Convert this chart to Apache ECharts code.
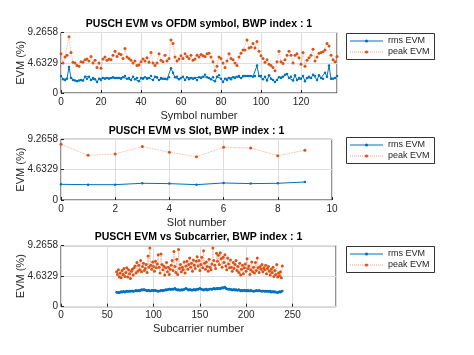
<!DOCTYPE html>
<html>
<head>
<meta charset="utf-8">
<script src="https://cdn.jsdelivr.net/npm/echarts@6/dist/echarts.min.js"></script>
<style>html,body{margin:0;padding:0;background:#fff}#c{width:474px;height:355px}</style>
</head>
<body>
<div id="c"></div>
<script>
// ---- data ----
const titles = ['PUSCH EVM vs OFDM symbol, BWP index : 1', 'PUSCH EVM vs Slot, BWP index : 1', 'PUSCH EVM vs Subcarrier, BWP index : 1'];
const xNames = ['Symbol number', 'Slot number', 'Subcarrier number'];
const yTicks = [0, 4.6329, 9.2658];
const seriesNames = ['rms EVM', 'peak EVM'];

const symbolStart = 0;
const symbolRms = [2.6,2.1,2.0,2.2,4.0,2.3,2.0,1.9,1.8,1.9,2.0,1.9,2.5,2.2,2.5,2.0,2.3,2.1,1.7,2.2,
2.0,2.3,2.2,2.3,2.2,2.3,2.4,2.3,2.3,2.3,2.2,2.4,2.6,2.2,2.3,2.0,2.5,2.1,2.3,1.8,
2.3,2.2,2.4,2.2,2.3,2.6,2.0,2.5,2.4,2.0,2.3,2.2,2.2,2.1,2.4,3.8,3.1,2.4,2.5,2.1,
2.3,2.5,2.0,2.4,2.1,2.3,2.2,2.3,2.0,2.4,2.3,2.5,2.8,2.4,2.3,2.1,2.4,1.8,2.5,2.7,
2.2,1.7,2.2,2.0,2.3,2.1,2.4,2.3,2.5,2.6,2.3,2.6,2.6,2.6,2.6,2.6,2.5,2.6,4.2,2.6,
2.6,2.1,2.5,1.9,2.7,2.2,2.0,1.7,2.0,2.4,2.3,2.5,2.8,2.9,2.3,2.5,1.9,2.7,2.0,2.3,
2.2,2.6,1.8,2.3,2.5,2.3,2.8,2.6,2.0,2.7,2.3,2.2,3.1,2.5,4.2,2.2,2.2,2.3,2.6];
const symbolPeak = [6.0,4.6,5.5,5.8,8.6,6.2,4.7,4.6,4.2,4.1,4.8,4.7,5.1,5.2,4.9,5.6,4.6,5.0,3.9,4.6,
3.8,5.2,5.5,5.0,5.2,5.1,5.8,6.4,5.6,6.0,5.9,5.3,6.8,5.5,5.3,5.0,4.6,4.9,4.2,4.3,
4.8,5.2,4.9,5.4,4.7,6.2,4.6,4.2,4.6,6.0,5.0,4.8,5.8,4.9,5.3,8.1,7.6,5.5,4.9,5.2,
5.7,5.3,6.0,5.6,5.3,5.8,5.0,5.2,5.8,5.5,5.9,5.7,5.6,6.0,6.1,5.5,4.8,3.4,4.1,5.5,
5.3,4.6,3.9,4.9,6.0,5.3,5.1,4.6,4.2,5.5,6.1,6.6,6.6,8.1,6.9,7.0,7.6,6.9,7.9,6.4,
5.7,5.3,4.7,5.1,4.4,4.2,3.9,3.4,4.8,6.4,4.8,4.5,5.1,5.8,6.4,5.8,4.6,5.8,6.0,5.4,
4.4,6.2,4.1,5.0,5.4,5.8,6.7,4.9,5.5,6.1,6.2,6.3,6.6,7.6,7.2,5.8,5.1,4.8,5.6];

const slotStart = 0;
const slotRms = [2.39,2.34,2.34,2.55,2.50,2.34,2.60,2.50,2.55,2.75];
const slotPeak = [8.50,6.82,7.03,8.15,7.28,6.62,8.04,7.94,6.77,7.59];

const subStart = 60;
const subRms = [2.2,2.1,2.2,2.1,2.2,2.3,2.2,2.3,2.3,2.2,2.3,2.4,2.3,2.3,2.4,2.3,2.4,2.4,2.3,2.4,
2.4,2.5,2.4,2.4,2.5,2.4,2.5,2.6,2.5,2.6,2.6,2.5,2.5,2.4,2.5,2.5,2.4,2.4,2.5,2.5,
2.4,2.5,2.5,2.4,2.4,2.3,2.4,2.4,2.5,2.5,2.4,2.5,2.5,2.6,2.5,2.6,2.6,2.7,2.6,2.6,
2.7,2.6,2.7,2.8,2.6,2.6,2.5,2.6,2.5,2.5,2.6,2.5,2.6,2.6,2.7,2.8,2.7,2.6,2.5,2.6,
2.6,2.5,2.5,2.6,2.6,2.5,2.6,2.7,2.6,2.7,2.8,2.7,2.6,2.6,2.5,2.6,2.6,2.7,2.5,2.6,
2.6,2.7,2.7,2.6,2.7,2.8,2.7,2.7,2.8,2.7,2.8,2.8,2.7,2.8,2.9,2.8,2.9,3.0,2.8,2.7,
2.7,2.6,2.7,2.6,2.6,2.5,2.6,2.6,2.5,2.6,2.5,2.5,2.6,2.5,2.4,2.5,2.4,2.5,2.5,2.4,
2.5,2.4,2.5,2.4,2.4,2.5,2.4,2.4,2.3,2.4,2.4,2.5,2.4,2.4,2.5,2.4,2.4,2.3,2.4,2.4,
2.3,2.4,2.3,2.4,2.3,2.3,2.4,2.2,2.3,2.3,2.2,2.3,2.2,2.2,2.1,2.2,2.3,2.2,2.3,2.4];
const subPeak = [5.3,4.9,5.6,4.5,5.1,4.4,5.5,4.9,5.8,4.6,5.2,5.9,4.5,5.6,5.0,4.3,5.4,5.7,4.8,5.9,
6.2,5.1,6.7,5.4,6.3,5.6,7.0,5.3,6.1,6.6,5.5,5.8,6.4,5.2,7.7,6.0,8.9,6.3,5.7,6.8,
6.1,5.4,6.9,5.9,6.5,7.9,6.0,5.1,8.0,6.4,5.6,6.2,4.8,5.9,6.7,5.3,6.0,4.9,5.7,6.3,
7.0,5.5,8.4,6.1,5.2,7.2,4.9,8.7,5.8,6.4,5.3,6.0,5.6,6.8,5.1,6.2,6.9,5.7,6.4,7.4,
6.0,6.6,5.4,7.1,6.3,5.8,6.9,7.6,6.2,7.0,5.5,6.4,7.5,5.9,8.5,6.6,5.7,6.8,6.1,5.4,
7.2,6.0,5.6,6.5,8.9,7.0,6.3,5.8,8.1,6.9,7.8,6.4,8.2,7.3,6.0,7.5,6.7,7.9,6.2,5.6,
7.4,6.5,5.9,7.1,6.0,5.4,6.7,5.8,6.4,7.0,5.5,6.1,5.2,6.6,4.8,5.7,6.3,5.0,5.9,6.5,
5.4,7.3,5.8,6.2,4.9,5.6,6.8,5.3,6.0,5.1,6.7,5.5,7.4,5.9,5.2,6.1,5.7,6.4,5.3,5.9,
5.6,6.3,5.0,5.8,6.1,5.4,4.8,5.7,5.2,6.0,4.6,5.5,4.9,6.4,4.5,5.1,4.7,5.3,4.4,6.2];

const xMax = [138, 10, 297];
const xInterval = [20, 2, 50];

// ---- chart ----
const BLUE = '#0072BD', ORANGE = '#D95319', TXT = '#262626';
const FONT = '"Liberation Sans", Arial, sans-serif';
function pairs(start, arr) { return arr.map((v, i) => [start + i, v]); }

const grids = [
  { left: 61, top: 32.5, width: 276, height: 60.5 },
  { left: 61, top: 139.3, width: 271, height: 60.7 },
  { left: 61, top: 245.7, width: 275, height: 61 }
];
const legendTops = [33.5, 137.5, 246.5];
const datasets = [
  [pairs(symbolStart, symbolRms), pairs(symbolStart, symbolPeak)],
  [pairs(slotStart, slotRms), pairs(slotStart, slotPeak)],
  [pairs(subStart, subRms), pairs(subStart, subPeak)]
];

const option = {
  animation: false,
  backgroundColor: '#fff',
  textStyle: { fontFamily: FONT },
  title: titles.map((t, i) => ({
    text: t,
    left: grids[i].left + grids[i].width / 2,
    textAlign: 'center',
    top: grids[i].top - 14,
    textStyle: { fontSize: 10.5, fontWeight: 'bold', color: '#000', fontFamily: FONT },
    padding: 0
  })),
  legend: legendTops.map((t, i) => ({
    orient: 'vertical',
    left: 346.5,
    top: t,
    padding: [3, 5, 3, 3],
    itemGap: 2,
    itemWidth: 33,
    itemHeight: 4,
    borderColor: '#333',
    borderWidth: 1,
    backgroundColor: '#fff',
    lineStyle: { width: 1 },
    textStyle: { fontSize: 9, color: TXT, fontFamily: FONT },
    data: seriesNames.map(n => ({ name: n })),
    selectedMode: false
  })),
  grid: grids.map(g => Object.assign({ show: true, borderColor: '#262626', borderWidth: 1, backgroundColor: 'transparent', containLabel: false, outerBoundsMode: 'none' }, g)),
  xAxis: grids.map((g, i) => ({
    type: 'value',
    gridIndex: i,
    min: 0,
    max: xMax[i],
    interval: xInterval[i],
    name: xNames[i],
    nameLocation: 'middle',
    nameGap: 17,
    nameTextStyle: { fontSize: 11, color: TXT, fontFamily: FONT },
    axisLine: { show: false },
    axisTick: { show: true, inside: true, length: 3, lineStyle: { color: '#262626' } },
    axisLabel: { fontSize: 10, color: TXT, margin: 4, showMaxLabel: i === 1, fontFamily: FONT },
    splitLine: { show: true, lineStyle: { color: '#dedede', width: 1 } }
  })),
  yAxis: grids.map((g, i) => ({
    type: 'value',
    gridIndex: i,
    min: yTicks[0],
    max: yTicks[2],
    interval: yTicks[1],
    name: 'EVM (%)',
    nameLocation: 'middle',
    nameGap: 35,
    nameMoveOverlap: false,
    nameRotate: 90,
    nameTextStyle: { fontSize: 11, color: TXT, fontFamily: FONT },
    axisLine: { show: false },
    axisTick: { show: true, inside: true, length: 3, lineStyle: { color: '#262626' } },
    axisLabel: { fontSize: 10, color: TXT, margin: 3, fontFamily: FONT,
      formatter: v => (Math.abs(v) < 1e-9 ? '0' : v.toFixed(4)) },
    splitLine: { show: true, lineStyle: { color: '#dedede', width: 1 } }
  })),
  series: []
};

datasets.forEach((ds, i) => {
  option.series.push({
    name: seriesNames[0], type: 'line', xAxisIndex: i, yAxisIndex: i,
    data: ds[0], symbol: 'circle', symbolSize: 2.5, showSymbol: true,
    lineStyle: { color: BLUE, width: 1 }, itemStyle: { color: BLUE }, z: 3
  });
  option.series.push({
    name: seriesNames[1], type: 'line', xAxisIndex: i, yAxisIndex: i,
    data: ds[1], symbol: 'circle', symbolSize: 3, showSymbol: true,
    lineStyle: { color: ORANGE, width: 0.8, type: 'dotted', opacity: 0.55 }, itemStyle: { color: ORANGE }, z: 2
  });
});

const chart = echarts.init(document.getElementById('c'), null, { renderer: 'canvas' });
chart.setOption(option);
</script>
</body>
</html>
